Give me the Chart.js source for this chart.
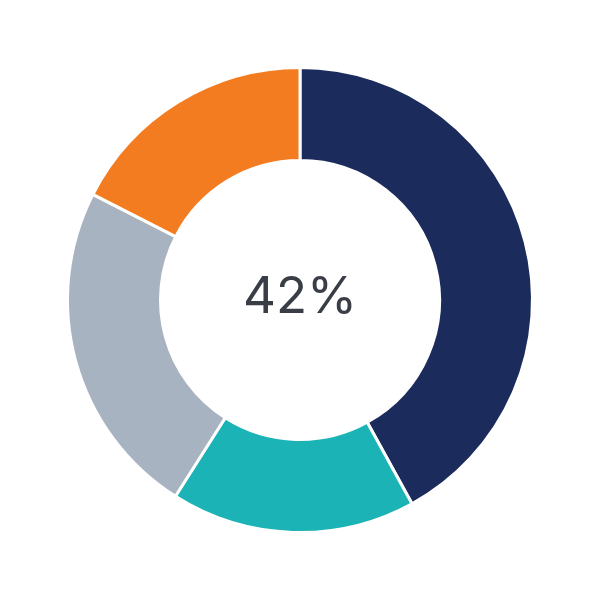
<!DOCTYPE html>
<html>
<head>
<meta charset="utf-8">
<script src="https://cdn.jsdelivr.net/npm/chart.js@4"></script>
<style>
  html, body { margin: 0; padding: 0; background: #ffffff; }
  #wrap { width: 600px; height: 600px; position: relative; }
</style>
</head>
<body>
<div id="wrap"><canvas id="donutChart"></canvas></div>
<script>
// Segment shares, clockwise from the top
const labels = ['Segment A', 'Segment B', 'Segment C', 'Segment D'];
const values = [42, 17, 23.5, 17.5];
const colors = ['#1b2b5b', '#1bb3b6', '#a8b3c2', '#f47c20'];
const centerLabel = '42%';

const centerText = {
  id: 'centerText',
  afterDraw(chart) {
    const { ctx } = chart;
    const meta = chart.getDatasetMeta(0).data[0];
    ctx.save();
    ctx.font = '400 51px Inter, "Noto Sans", sans-serif';
    ctx.fillStyle = '#383d46';
    ctx.textAlign = 'center';
    ctx.textBaseline = 'middle';
    ctx.fillText(centerLabel, meta.x, meta.y - 2);
    ctx.restore();
  }
};

const ctx = document.getElementById('donutChart').getContext('2d');
new Chart(ctx, {
  type: 'doughnut',
  data: {
    labels: labels,
    datasets: [{
      data: values,
      backgroundColor: colors,
      borderColor: '#ffffff',
      borderWidth: 3
    }]
  },
  options: {
    responsive: true,
    maintainAspectRatio: false,
    animation: false,
    cutout: '60%',
    layout: { padding: 66 },
    plugins: {
      legend: { display: false },
      tooltip: { enabled: false }
    }
  },
  plugins: [centerText]
});
</script>
</body>
</html>
